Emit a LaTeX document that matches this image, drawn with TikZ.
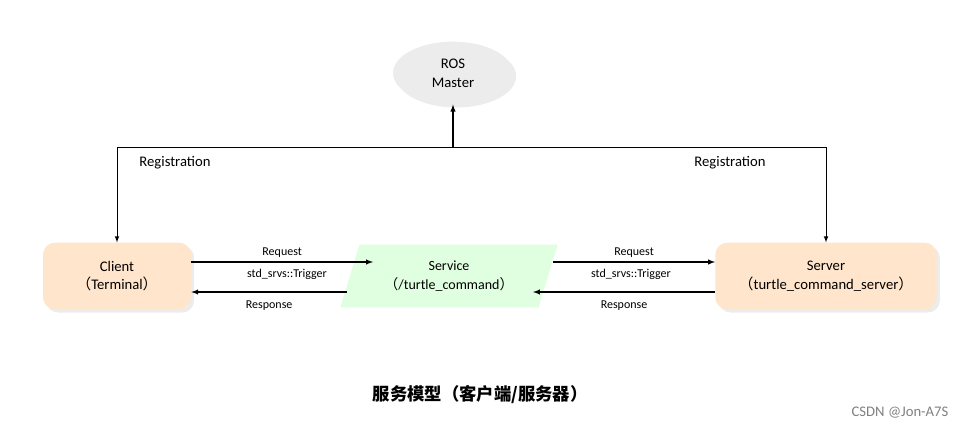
\documentclass[tikz,border=0pt]{standalone}
\usepackage{fontspec}
\setmainfont{Carlito}
\newfontfamily\cjk{Noto Sans CJK SC}
\usetikzlibrary{shapes.geometric,shadows}
\newcommand{\lp}{{\cjk （}}
\newcommand{\rp}{{\cjk ）}}
\begin{document}
\begin{tikzpicture}[x=0.75pt,y=-0.75pt,
    box/.style={rounded corners=9pt,fill=orange!20,minimum width=111pt,minimum height=50pt,align=center,font=\fontsize{11}{14}\selectfont,drop shadow={opacity=0.15}},
    lab/.style={font=\fontsize{9}{10}\selectfont},
    arr/.style={-latex,thick}]
    \useasboundingbox (0,0) rectangle (977,435);
    \node[ellipse,fill=gray!15,minimum width=90pt,minimum height=47pt,align=center,font=\fontsize{11}{14}\selectfont,drop shadow={opacity=0.15}] (master) at (453,73) {ROS\\Master};
    \node[box] (client) at (117,276) {Client\\\lp Terminal\rp};
    \node[box,minimum width=166pt] (server) at (826,276) {Server\\\lp turtle\_command\_server\rp};
    \node[trapezium,trapezium left angle=64,trapezium right angle=116,trapezium stretches body,fill=green!12,minimum width=163pt,minimum height=47pt,inner xsep=0pt,align=center,font=\fontsize{10.5}{14}\selectfont] (service) at (449,276) {Service\\\lp/turtle\_command\rp};

    \coordinate (bar) at (453,147);
    \coordinate (barl) at (117,147);
    \coordinate (barr) at (826,147);
    \draw[arr] (bar) -- (master);
    \draw[semithick] (barl) -- (barr);
    \draw[-latex,semithick] (barl) -- (client);
    \draw[-latex,semithick] (barr) -- (server);
    \node[font=\fontsize{11}{14}\selectfont] (reg1) at (175,163) {Registration};
    \node[font=\fontsize{11}{14}\selectfont] (reg2) at (730,163) {Registration};

    \draw[arr] (client.east |- 0,262) -- node[lab,above] {Request} (373,262);
    \draw[arr] (347,292) -- node[lab,below=3pt] {Response} (client.east |- 0,292);
    \node[lab] (t1) at (287,274) {std\_srvs::Trigger};
    \draw[arr] (553,262) -- node[lab,above] {Request} (server.west |- 0,262);
    \draw[arr] (server.west |- 0,292) -- node[lab,below=3pt] {Response} (533,292);
    \node[lab] (t2) at (631,274) {std\_srvs::Trigger};

    \node[font=\cjk\bfseries\fontsize{13}{16}\selectfont] (title) at (480,395) {服务模型（客户端/服务器）};
    \node[font=\fontsize{11}{14}\selectfont,text=gray] (mark) at (900,413) {CSDN @Jon-A7S};
\end{tikzpicture}
\end{document}
